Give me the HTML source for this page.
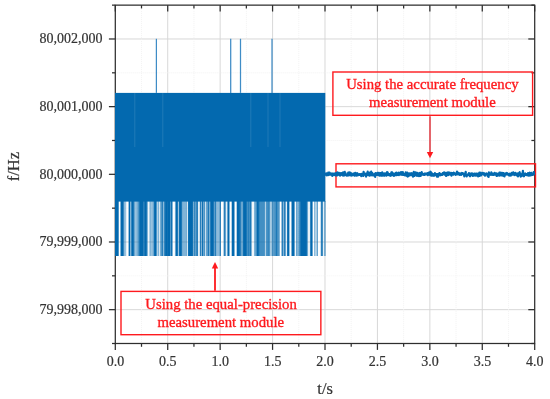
<!DOCTYPE html>
<html><head><meta charset="utf-8"><title>Frequency measurement</title>
<style>html,body{margin:0;padding:0;background:#fff}svg{display:block}</style></head>
<body>
<svg width="550" height="399" viewBox="0 0 550 399">
<rect width="550" height="399" fill="#fff"/>
<g stroke="#d6d6d6" stroke-width="0.95" fill="none"><line x1="167.72" y1="5.14" x2="167.72" y2="343.50"/><line x1="220.15" y1="5.14" x2="220.15" y2="343.50"/><line x1="272.57" y1="5.14" x2="272.57" y2="343.50"/><line x1="325.00" y1="5.14" x2="325.00" y2="343.50"/><line x1="377.43" y1="5.14" x2="377.43" y2="343.50"/><line x1="429.85" y1="5.14" x2="429.85" y2="343.50"/><line x1="482.27" y1="5.14" x2="482.27" y2="343.50"/><line x1="115.30" y1="309.66" x2="534.70" y2="309.66"/><line x1="115.30" y1="241.99" x2="534.70" y2="241.99"/><line x1="115.30" y1="174.32" x2="534.70" y2="174.32"/><line x1="115.30" y1="106.65" x2="534.70" y2="106.65"/><line x1="115.30" y1="38.98" x2="534.70" y2="38.98"/></g>
<g stroke="#f2f2f2" stroke-width="0.9" stroke-dasharray="1 1" fill="none"><line x1="141.51" y1="5.14" x2="141.51" y2="343.50"/><line x1="193.94" y1="5.14" x2="193.94" y2="343.50"/><line x1="246.36" y1="5.14" x2="246.36" y2="343.50"/><line x1="298.79" y1="5.14" x2="298.79" y2="343.50"/><line x1="351.21" y1="5.14" x2="351.21" y2="343.50"/><line x1="403.64" y1="5.14" x2="403.64" y2="343.50"/><line x1="456.06" y1="5.14" x2="456.06" y2="343.50"/><line x1="508.49" y1="5.14" x2="508.49" y2="343.50"/><line x1="115.30" y1="275.82" x2="534.70" y2="275.82"/><line x1="115.30" y1="208.16" x2="534.70" y2="208.16"/><line x1="115.30" y1="140.48" x2="534.70" y2="140.48"/><line x1="115.30" y1="72.81" x2="534.70" y2="72.81"/></g>
<g stroke="#2e2e2e" stroke-width="1.25" fill="none">
<rect x="115.30" y="5.14" width="419.40" height="338.35"/>
<line x1="115.30" y1="343.50" x2="115.30" y2="349.89"/><line x1="115.30" y1="5.14" x2="115.30" y2="11.54"/><line x1="141.51" y1="343.50" x2="141.51" y2="346.80"/><line x1="141.51" y1="5.14" x2="141.51" y2="8.44"/><line x1="167.72" y1="343.50" x2="167.72" y2="349.89"/><line x1="167.72" y1="5.14" x2="167.72" y2="11.54"/><line x1="193.94" y1="343.50" x2="193.94" y2="346.80"/><line x1="193.94" y1="5.14" x2="193.94" y2="8.44"/><line x1="220.15" y1="343.50" x2="220.15" y2="349.89"/><line x1="220.15" y1="5.14" x2="220.15" y2="11.54"/><line x1="246.36" y1="343.50" x2="246.36" y2="346.80"/><line x1="246.36" y1="5.14" x2="246.36" y2="8.44"/><line x1="272.57" y1="343.50" x2="272.57" y2="349.89"/><line x1="272.57" y1="5.14" x2="272.57" y2="11.54"/><line x1="298.79" y1="343.50" x2="298.79" y2="346.80"/><line x1="298.79" y1="5.14" x2="298.79" y2="8.44"/><line x1="325.00" y1="343.50" x2="325.00" y2="349.89"/><line x1="325.00" y1="5.14" x2="325.00" y2="11.54"/><line x1="351.21" y1="343.50" x2="351.21" y2="346.80"/><line x1="351.21" y1="5.14" x2="351.21" y2="8.44"/><line x1="377.43" y1="343.50" x2="377.43" y2="349.89"/><line x1="377.43" y1="5.14" x2="377.43" y2="11.54"/><line x1="403.64" y1="343.50" x2="403.64" y2="346.80"/><line x1="403.64" y1="5.14" x2="403.64" y2="8.44"/><line x1="429.85" y1="343.50" x2="429.85" y2="349.89"/><line x1="429.85" y1="5.14" x2="429.85" y2="11.54"/><line x1="456.06" y1="343.50" x2="456.06" y2="346.80"/><line x1="456.06" y1="5.14" x2="456.06" y2="8.44"/><line x1="482.27" y1="343.50" x2="482.27" y2="349.89"/><line x1="482.27" y1="5.14" x2="482.27" y2="11.54"/><line x1="508.49" y1="343.50" x2="508.49" y2="346.80"/><line x1="508.49" y1="5.14" x2="508.49" y2="8.44"/><line x1="534.70" y1="343.50" x2="534.70" y2="349.89"/><line x1="534.70" y1="5.14" x2="534.70" y2="11.54"/><line x1="115.30" y1="343.50" x2="112.00" y2="343.50"/><line x1="534.70" y1="343.50" x2="531.40" y2="343.50"/><line x1="115.30" y1="309.66" x2="108.90" y2="309.66"/><line x1="534.70" y1="309.66" x2="528.30" y2="309.66"/><line x1="115.30" y1="275.82" x2="112.00" y2="275.82"/><line x1="534.70" y1="275.82" x2="531.40" y2="275.82"/><line x1="115.30" y1="241.99" x2="108.90" y2="241.99"/><line x1="534.70" y1="241.99" x2="528.30" y2="241.99"/><line x1="115.30" y1="208.16" x2="112.00" y2="208.16"/><line x1="534.70" y1="208.16" x2="531.40" y2="208.16"/><line x1="115.30" y1="174.32" x2="108.90" y2="174.32"/><line x1="534.70" y1="174.32" x2="528.30" y2="174.32"/><line x1="115.30" y1="140.48" x2="112.00" y2="140.48"/><line x1="534.70" y1="140.48" x2="531.40" y2="140.48"/><line x1="115.30" y1="106.65" x2="108.90" y2="106.65"/><line x1="534.70" y1="106.65" x2="528.30" y2="106.65"/><line x1="115.30" y1="72.81" x2="112.00" y2="72.81"/><line x1="534.70" y1="72.81" x2="531.40" y2="72.81"/><line x1="115.30" y1="38.98" x2="108.90" y2="38.98"/><line x1="534.70" y1="38.98" x2="528.30" y2="38.98"/><line x1="115.30" y1="5.14" x2="112.00" y2="5.14"/><line x1="534.70" y1="5.14" x2="531.40" y2="5.14"/></g>
<rect x="115.00" y="92.90" width="210.30" height="108.70" fill="#0369af"/>
<g fill="#0369af" shape-rendering="crispEdges"><rect x="115" y="201.10" width="1" height="54.50" fill-opacity="1"/><rect x="116" y="201.10" width="1" height="54.50" fill-opacity="1"/><rect x="117" y="201.10" width="1" height="54.50" fill-opacity="1"/><rect x="118" y="201.10" width="1" height="54.50" fill-opacity="0.7"/><rect x="120" y="201.10" width="1" height="54.50" fill-opacity="0.5"/><rect x="121" y="201.10" width="1" height="54.50" fill-opacity="1"/><rect x="122" y="201.10" width="1" height="54.50" fill-opacity="1"/><rect x="123" y="201.10" width="1" height="54.50" fill-opacity="0.8"/><rect x="124" y="201.10" width="1" height="54.50" fill-opacity="0.45"/><rect x="125" y="201.10" width="1" height="54.50" fill-opacity="0.4"/><rect x="126" y="201.10" width="1" height="54.50" fill-opacity="0.1"/><rect x="128" y="201.10" width="1" height="54.50" fill-opacity="0.4"/><rect x="129" y="201.10" width="1" height="54.50" fill-opacity="1"/><rect x="130" y="201.10" width="1" height="54.50" fill-opacity="0.5"/><rect x="131" y="201.10" width="1" height="54.50" fill-opacity="0.8"/><rect x="132" y="201.10" width="1" height="54.50" fill-opacity="1"/><rect x="133" y="201.10" width="1" height="54.50" fill-opacity="0.9"/><rect x="134" y="201.10" width="1" height="54.50" fill-opacity="0.6"/><rect x="135" y="201.10" width="1" height="54.50" fill-opacity="0.4"/><rect x="136" y="201.10" width="1" height="54.50" fill-opacity="0.45"/><rect x="137" y="201.10" width="1" height="54.50" fill-opacity="0.55"/><rect x="138" y="201.10" width="1" height="54.50" fill-opacity="0.7"/><rect x="139" y="201.10" width="1" height="54.50" fill-opacity="0.9"/><rect x="140" y="201.10" width="1" height="54.50" fill-opacity="1"/><rect x="141" y="201.10" width="1" height="54.50" fill-opacity="1"/><rect x="142" y="201.10" width="1" height="54.50" fill-opacity="1"/><rect x="143" y="201.10" width="1" height="54.50" fill-opacity="0.85"/><rect x="144" y="201.10" width="1" height="54.50" fill-opacity="0.9"/><rect x="145" y="201.10" width="1" height="54.50" fill-opacity="1"/><rect x="146" y="201.10" width="1" height="54.50" fill-opacity="0.9"/><rect x="147" y="201.10" width="1" height="54.50" fill-opacity="0.5"/><rect x="148" y="201.10" width="1" height="54.50" fill-opacity="0.05"/><rect x="149" y="201.10" width="1" height="54.50" fill-opacity="0.3"/><rect x="150" y="201.10" width="1" height="54.50" fill-opacity="0.5"/><rect x="151" y="201.10" width="1" height="54.50" fill-opacity="0.4"/><rect x="152" y="201.10" width="1" height="54.50" fill-opacity="0.45"/><rect x="153" y="201.10" width="1" height="54.50" fill-opacity="0.6"/><rect x="154" y="201.10" width="1" height="54.50" fill-opacity="0.95"/><rect x="155" y="201.10" width="1" height="54.50" fill-opacity="1"/><rect x="156" y="201.10" width="1" height="54.50" fill-opacity="0.7"/><rect x="157" y="201.10" width="1" height="54.50" fill-opacity="0.3"/><rect x="158" y="201.10" width="1" height="54.50" fill-opacity="0.5"/><rect x="159" y="201.10" width="1" height="54.50" fill-opacity="0.15"/><rect x="160" y="201.10" width="1" height="54.50" fill-opacity="0.55"/><rect x="161" y="201.10" width="1" height="54.50" fill-opacity="0.7"/><rect x="162" y="201.10" width="1" height="54.50" fill-opacity="0.85"/><rect x="163" y="201.10" width="1" height="54.50" fill-opacity="0.45"/><rect x="164" y="201.10" width="1" height="54.50" fill-opacity="0.8"/><rect x="165" y="201.10" width="1" height="54.50" fill-opacity="0.95"/><rect x="166" y="201.10" width="1" height="54.50" fill-opacity="1"/><rect x="167" y="201.10" width="1" height="54.50" fill-opacity="0.95"/><rect x="168" y="201.10" width="1" height="54.50" fill-opacity="1"/><rect x="169" y="201.10" width="1" height="54.50" fill-opacity="1"/><rect x="170" y="201.10" width="1" height="54.50" fill-opacity="0.7"/><rect x="171" y="201.10" width="1" height="54.50" fill-opacity="0.95"/><rect x="172" y="201.10" width="1" height="54.50" fill-opacity="0.5"/><rect x="174" y="201.10" width="1" height="54.50" fill-opacity="0.05"/><rect x="175" y="201.10" width="1" height="54.50" fill-opacity="0.6"/><rect x="176" y="201.10" width="1" height="54.50" fill-opacity="1"/><rect x="177" y="201.10" width="1" height="54.50" fill-opacity="0.9"/><rect x="178" y="201.10" width="1" height="54.50" fill-opacity="0.4"/><rect x="179" y="201.10" width="1" height="54.50" fill-opacity="0.95"/><rect x="180" y="201.10" width="1" height="54.50" fill-opacity="1"/><rect x="181" y="201.10" width="1" height="54.50" fill-opacity="0.9"/><rect x="182" y="201.10" width="1" height="54.50" fill-opacity="0.55"/><rect x="183" y="201.10" width="1" height="54.50" fill-opacity="0.5"/><rect x="184" y="201.10" width="1" height="54.50" fill-opacity="0.5"/><rect x="185" y="201.10" width="1" height="54.50" fill-opacity="0.5"/><rect x="186" y="201.10" width="1" height="54.50" fill-opacity="0.55"/><rect x="187" y="201.10" width="1" height="54.50" fill-opacity="0.15"/><rect x="188" y="201.10" width="1" height="54.50" fill-opacity="0.95"/><rect x="189" y="201.10" width="1" height="54.50" fill-opacity="1"/><rect x="190" y="201.10" width="1" height="54.50" fill-opacity="1"/><rect x="191" y="201.10" width="1" height="54.50" fill-opacity="1"/><rect x="192" y="201.10" width="1" height="54.50" fill-opacity="0.95"/><rect x="193" y="201.10" width="1" height="54.50" fill-opacity="0.55"/><rect x="194" y="201.10" width="1" height="54.50" fill-opacity="0.8"/><rect x="195" y="201.10" width="1" height="54.50" fill-opacity="0.65"/><rect x="196" y="201.10" width="1" height="54.50" fill-opacity="0.8"/><rect x="197" y="201.10" width="1" height="54.50" fill-opacity="0.85"/><rect x="198" y="201.10" width="1" height="54.50" fill-opacity="0.1"/><rect x="199" y="201.10" width="1" height="54.50" fill-opacity="0.2"/><rect x="200" y="201.10" width="1" height="54.50" fill-opacity="0.85"/><rect x="201" y="201.10" width="1" height="54.50" fill-opacity="0.5"/><rect x="202" y="201.10" width="1" height="54.50" fill-opacity="0.95"/><rect x="203" y="201.10" width="1" height="54.50" fill-opacity="0.6"/><rect x="204" y="201.10" width="1" height="54.50" fill-opacity="0.7"/><rect x="205" y="201.10" width="1" height="54.50" fill-opacity="0.2"/><rect x="206" y="201.10" width="1" height="54.50" fill-opacity="0.6"/><rect x="207" y="201.10" width="1" height="54.50" fill-opacity="0.65"/><rect x="208" y="201.10" width="1" height="54.50" fill-opacity="0.9"/><rect x="209" y="201.10" width="1" height="54.50" fill-opacity="0.55"/><rect x="210" y="201.10" width="1" height="54.50" fill-opacity="0.85"/><rect x="211" y="201.10" width="1" height="54.50" fill-opacity="1"/><rect x="212" y="201.10" width="1" height="54.50" fill-opacity="1"/><rect x="213" y="201.10" width="1" height="54.50" fill-opacity="0.9"/><rect x="214" y="201.10" width="1" height="54.50" fill-opacity="0.65"/><rect x="215" y="201.10" width="1" height="54.50" fill-opacity="0.85"/><rect x="216" y="201.10" width="1" height="54.50" fill-opacity="0.5"/><rect x="217" y="201.10" width="1" height="54.50" fill-opacity="0.45"/><rect x="218" y="201.10" width="1" height="54.50" fill-opacity="0.45"/><rect x="219" y="201.10" width="1" height="54.50" fill-opacity="0.55"/><rect x="220" y="201.10" width="1" height="54.50" fill-opacity="0.8"/><rect x="223" y="201.10" width="1" height="54.50" fill-opacity="0.3"/><rect x="224" y="201.10" width="1" height="54.50" fill-opacity="0.85"/><rect x="225" y="201.10" width="1" height="54.50" fill-opacity="0.6"/><rect x="226" y="201.10" width="1" height="54.50" fill-opacity="0.1"/><rect x="227" y="201.10" width="1" height="54.50" fill-opacity="0.6"/><rect x="228" y="201.10" width="1" height="54.50" fill-opacity="1"/><rect x="229" y="201.10" width="1" height="54.50" fill-opacity="0.5"/><rect x="231" y="201.10" width="1" height="54.50" fill-opacity="0.3"/><rect x="232" y="201.10" width="1" height="54.50" fill-opacity="1"/><rect x="233" y="201.10" width="1" height="54.50" fill-opacity="1"/><rect x="234" y="201.10" width="1" height="54.50" fill-opacity="0.5"/><rect x="236" y="201.10" width="1" height="54.50" fill-opacity="0.3"/><rect x="237" y="201.10" width="1" height="54.50" fill-opacity="1"/><rect x="238" y="201.10" width="1" height="54.50" fill-opacity="1"/><rect x="239" y="201.10" width="1" height="54.50" fill-opacity="0.95"/><rect x="240" y="201.10" width="1" height="54.50" fill-opacity="0.85"/><rect x="241" y="201.10" width="1" height="54.50" fill-opacity="0.6"/><rect x="242" y="201.10" width="1" height="54.50" fill-opacity="0.6"/><rect x="243" y="201.10" width="1" height="54.50" fill-opacity="0.95"/><rect x="244" y="201.10" width="1" height="54.50" fill-opacity="1"/><rect x="245" y="201.10" width="1" height="54.50" fill-opacity="1"/><rect x="246" y="201.10" width="1" height="54.50" fill-opacity="0.9"/><rect x="247" y="201.10" width="1" height="54.50" fill-opacity="0.75"/><rect x="248" y="201.10" width="1" height="54.50" fill-opacity="0.85"/><rect x="249" y="201.10" width="1" height="54.50" fill-opacity="0.75"/><rect x="250" y="201.10" width="1" height="54.50" fill-opacity="0.9"/><rect x="251" y="201.10" width="1" height="54.50" fill-opacity="0.5"/><rect x="252" y="201.10" width="1" height="54.50" fill-opacity="0.05"/><rect x="253" y="201.10" width="1" height="54.50" fill-opacity="0.05"/><rect x="254" y="201.10" width="1" height="54.50" fill-opacity="0.5"/><rect x="255" y="201.10" width="1" height="54.50" fill-opacity="0.6"/><rect x="256" y="201.10" width="1" height="54.50" fill-opacity="0.75"/><rect x="257" y="201.10" width="1" height="54.50" fill-opacity="1"/><rect x="258" y="201.10" width="1" height="54.50" fill-opacity="0.95"/><rect x="259" y="201.10" width="1" height="54.50" fill-opacity="0.8"/><rect x="260" y="201.10" width="1" height="54.50" fill-opacity="0.75"/><rect x="261" y="201.10" width="1" height="54.50" fill-opacity="0.75"/><rect x="262" y="201.10" width="1" height="54.50" fill-opacity="0.75"/><rect x="263" y="201.10" width="1" height="54.50" fill-opacity="0.75"/><rect x="264" y="201.10" width="1" height="54.50" fill-opacity="0.7"/><rect x="265" y="201.10" width="1" height="54.50" fill-opacity="0.3"/><rect x="266" y="201.10" width="1" height="54.50" fill-opacity="0.7"/><rect x="267" y="201.10" width="1" height="54.50" fill-opacity="0.75"/><rect x="268" y="201.10" width="1" height="54.50" fill-opacity="0.8"/><rect x="269" y="201.10" width="1" height="54.50" fill-opacity="0.7"/><rect x="270" y="201.10" width="1" height="54.50" fill-opacity="0.35"/><rect x="271" y="201.10" width="1" height="54.50" fill-opacity="0.4"/><rect x="272" y="201.10" width="1" height="54.50" fill-opacity="0.7"/><rect x="273" y="201.10" width="1" height="54.50" fill-opacity="0.65"/><rect x="274" y="201.10" width="1" height="54.50" fill-opacity="0.7"/><rect x="275" y="201.10" width="1" height="54.50" fill-opacity="0.75"/><rect x="276" y="201.10" width="1" height="54.50" fill-opacity="0.9"/><rect x="277" y="201.10" width="1" height="54.50" fill-opacity="0.75"/><rect x="278" y="201.10" width="1" height="54.50" fill-opacity="0.7"/><rect x="279" y="201.10" width="1" height="54.50" fill-opacity="0.5"/><rect x="281" y="201.10" width="1" height="54.50" fill-opacity="0.4"/><rect x="282" y="201.10" width="1" height="54.50" fill-opacity="0.85"/><rect x="283" y="201.10" width="1" height="54.50" fill-opacity="0.5"/><rect x="284" y="201.10" width="1" height="54.50" fill-opacity="0.85"/><rect x="285" y="201.10" width="1" height="54.50" fill-opacity="0.6"/><rect x="286" y="201.10" width="1" height="54.50" fill-opacity="0.1"/><rect x="287" y="201.10" width="1" height="54.50" fill-opacity="0.9"/><rect x="288" y="201.10" width="1" height="54.50" fill-opacity="1"/><rect x="289" y="201.10" width="1" height="54.50" fill-opacity="0.4"/><rect x="291" y="201.10" width="1" height="54.50" fill-opacity="0.5"/><rect x="292" y="201.10" width="1" height="54.50" fill-opacity="1"/><rect x="293" y="201.10" width="1" height="54.50" fill-opacity="1"/><rect x="294" y="201.10" width="1" height="54.50" fill-opacity="0.6"/><rect x="295" y="201.10" width="1" height="54.50" fill-opacity="0.05"/><rect x="296" y="201.10" width="1" height="54.50" fill-opacity="0.6"/><rect x="297" y="201.10" width="1" height="54.50" fill-opacity="0.5"/><rect x="298" y="201.10" width="1" height="54.50" fill-opacity="0.55"/><rect x="299" y="201.10" width="1" height="54.50" fill-opacity="0.75"/><rect x="300" y="201.10" width="1" height="54.50" fill-opacity="0.9"/><rect x="301" y="201.10" width="1" height="54.50" fill-opacity="1"/><rect x="302" y="201.10" width="1" height="54.50" fill-opacity="1"/><rect x="303" y="201.10" width="1" height="54.50" fill-opacity="1"/><rect x="304" y="201.10" width="1" height="54.50" fill-opacity="1"/><rect x="305" y="201.10" width="1" height="54.50" fill-opacity="1"/><rect x="306" y="201.10" width="1" height="54.50" fill-opacity="0.95"/><rect x="307" y="201.10" width="1" height="54.50" fill-opacity="0.6"/><rect x="308" y="201.10" width="1" height="54.50" fill-opacity="0.1"/><rect x="309" y="201.10" width="1" height="54.50" fill-opacity="0.1"/><rect x="310" y="201.10" width="1" height="54.50" fill-opacity="0.8"/><rect x="311" y="201.10" width="1" height="54.50" fill-opacity="1"/><rect x="312" y="201.10" width="1" height="54.50" fill-opacity="0.6"/><rect x="314" y="201.10" width="1" height="54.50" fill-opacity="0.45"/><rect x="315" y="201.10" width="1" height="54.50" fill-opacity="0.3"/><rect x="316" y="201.10" width="1" height="54.50" fill-opacity="0.35"/><rect x="317" y="201.10" width="1" height="54.50" fill-opacity="0.6"/><rect x="320" y="201.10" width="1" height="54.50" fill-opacity="0.2"/><rect x="321" y="201.10" width="1" height="54.50" fill-opacity="0.85"/><rect x="322" y="201.10" width="1" height="54.50" fill-opacity="0.75"/><rect x="323" y="201.10" width="1" height="54.50" fill-opacity="0.1"/><rect x="324" y="201.10" width="1" height="54.50" fill-opacity="0.5"/><rect x="325" y="201.10" width="1" height="54.50" fill-opacity="0.4"/></g>
<line x1="134.8" y1="92.90" x2="134.8" y2="147" stroke="#fff" stroke-opacity="0.12" stroke-width="1"/>
<line x1="162.8" y1="92.90" x2="162.8" y2="147" stroke="#fff" stroke-opacity="0.12" stroke-width="1"/>
<line x1="250.8" y1="92.90" x2="250.8" y2="147" stroke="#fff" stroke-opacity="0.12" stroke-width="1"/>
<line x1="268.0" y1="92.90" x2="268.0" y2="147" stroke="#fff" stroke-opacity="0.12" stroke-width="1"/>
<line x1="280.0" y1="92.90" x2="280.0" y2="147" stroke="#fff" stroke-opacity="0.12" stroke-width="1"/>
<line x1="156.4" y1="38.78" x2="156.4" y2="92.90" stroke="#3f8cc6" stroke-width="1.25"/>
<line x1="230.7" y1="38.78" x2="230.7" y2="92.90" stroke="#3f8cc6" stroke-width="1.25"/>
<line x1="240.5" y1="38.78" x2="240.5" y2="92.90" stroke="#3f8cc6" stroke-width="1.25"/>
<line x1="272.0" y1="38.78" x2="272.0" y2="92.90" stroke="#3f8cc6" stroke-width="1.25"/>
<g stroke="#fe1a1e" stroke-width="1.4" fill="none">
<rect x="332.9" y="72.0" width="199.7" height="43.3"/>
<rect x="336.0" y="163.8" width="199.5" height="23.1"/>
<rect x="121.0" y="291.4" width="199.85" height="43.3"/>
<line x1="430.0" y1="116.3" x2="430.0" y2="153" stroke-width="2" stroke="#e4656b"/>
<line x1="215.0" y1="290.7" x2="215.0" y2="267.5" stroke-width="1.8"/>
</g>
<path d="M426.8 152.1 L433.2 152.1 L430.0 158.3 Z" fill="#fe1a1e"/>
<path d="M211.8 268.5 L218.2 268.5 L215.0 262.0 Z" fill="#fe1a1e"/>
<polyline points="325.0,173.98 325.3,174.71 325.5,174.01 325.8,173.92 326.1,173.34 326.3,174.02 326.6,175.28 326.9,174.62 327.2,175.21 327.4,174.46 327.7,174.60 328.0,174.40 328.2,172.64 328.5,175.03 328.8,174.70 329.0,174.69 329.3,172.61 329.6,172.56 329.9,173.37 330.1,173.78 330.4,174.51 330.7,174.18 330.9,174.71 331.2,173.61 331.5,174.51 331.7,174.59 332.0,173.59 332.3,175.85 332.6,174.75 332.8,175.36 333.1,173.63 333.4,173.52 333.6,173.89 333.9,174.12 334.2,174.82 334.4,174.46 334.7,173.80 335.0,173.31 335.3,173.73 335.5,175.38 335.8,173.45 336.1,174.45 336.3,174.63 336.6,172.80 336.9,174.27 337.1,175.46 337.4,172.31 337.7,173.91 338.0,174.12 338.2,173.44 338.5,174.69 338.8,174.16 339.0,172.83 339.3,175.01 339.6,174.86 339.8,175.12 340.1,175.59 340.4,174.56 340.7,174.33 340.9,172.99 341.2,174.80 341.5,173.64 341.7,173.79 342.0,173.02 342.3,173.30 342.5,173.72 342.8,175.44 343.1,172.29 343.4,172.84 343.6,174.45 343.9,175.59 344.2,174.77 344.4,172.42 344.7,171.83 345.0,174.56 345.2,173.52 345.5,173.16 345.8,175.15 346.1,175.27 346.3,174.37 346.6,174.45 346.9,174.63 347.1,175.73 347.4,174.81 347.7,174.71 347.9,174.74 348.2,172.73 348.5,175.44 348.8,175.13 349.0,174.72 349.3,172.34 349.6,173.62 349.8,175.02 350.1,172.50 350.4,174.05 350.6,175.19 350.9,172.97 351.2,175.75 351.5,174.74 351.7,174.08 352.0,174.53 352.3,174.84 352.5,174.33 352.8,175.31 353.1,173.59 353.3,173.83 353.6,175.21 353.9,174.25 354.2,173.38 354.4,175.12 354.7,175.61 355.0,173.80 355.2,172.91 355.5,174.09 355.8,174.08 356.0,173.94 356.3,175.55 356.6,173.24 356.9,175.42 357.1,173.02 357.4,173.47 357.7,174.82 357.9,175.29 358.2,175.04 358.5,174.55 358.7,174.36 359.0,174.36 359.3,174.77 359.6,174.05 359.8,174.48 360.1,174.76 360.4,174.22 360.6,174.95 360.9,174.76 361.2,176.13 361.4,174.53 361.7,173.81 362.0,173.87 362.3,174.21 362.5,175.10 362.8,173.90 363.1,174.59 363.3,175.97 363.6,171.78 363.9,173.15 364.1,174.45 364.4,174.60 364.7,174.45 365.0,173.81 365.2,174.84 365.5,174.49 365.8,173.72 366.0,176.53 366.3,174.56 366.6,173.69 366.8,174.13 367.1,174.01 367.4,174.16 367.7,171.63 367.9,173.76 368.2,175.18 368.5,173.11 368.7,174.16 369.0,175.13 369.3,175.03 369.5,175.64 369.8,172.60 370.1,173.88 370.4,173.90 370.6,174.81 370.9,175.26 371.2,171.67 371.4,175.25 371.7,172.84 372.0,174.87 372.2,172.80 372.5,174.39 372.8,175.35 373.1,174.08 373.3,174.40 373.6,174.98 373.9,174.35 374.1,174.14 374.4,175.68 374.7,175.22 374.9,173.94 375.2,176.83 375.5,173.13 375.8,175.09 376.0,173.97 376.3,174.35 376.6,174.89 376.8,174.43 377.1,174.83 377.4,172.77 377.6,172.79 377.9,174.80 378.2,173.30 378.5,173.24 378.7,172.82 379.0,175.42 379.3,174.93 379.5,175.62 379.8,173.33 380.1,174.22 380.3,173.14 380.6,174.95 380.9,175.73 381.2,173.37 381.4,175.70 381.7,175.16 382.0,174.05 382.2,172.35 382.5,175.56 382.8,174.13 383.0,173.65 383.3,174.60 383.6,174.61 383.9,175.64 384.1,173.25 384.4,175.30 384.7,175.63 384.9,175.60 385.2,174.05 385.5,173.51 385.7,175.19 386.0,174.33 386.3,174.34 386.6,175.57 386.8,173.97 387.1,172.04 387.4,173.85 387.6,172.46 387.9,175.00 388.2,174.52 388.4,173.64 388.7,174.21 389.0,175.01 389.3,174.29 389.5,175.48 389.8,174.16 390.1,175.21 390.3,175.64 390.6,175.75 390.9,173.58 391.1,175.06 391.4,172.44 391.7,173.19 392.0,172.36 392.2,175.24 392.5,173.05 392.8,174.21 393.0,174.04 393.3,174.19 393.6,173.66 393.8,174.44 394.1,175.92 394.4,174.26 394.7,174.72 394.9,175.17 395.2,174.03 395.5,173.02 395.7,173.69 396.0,175.24 396.3,172.66 396.5,173.65 396.8,175.18 397.1,174.97 397.4,174.23 397.6,174.98 397.9,174.38 398.2,173.10 398.4,172.73 398.7,173.61 399.0,175.10 399.2,173.68 399.5,173.36 399.8,173.49 400.1,172.76 400.3,174.11 400.6,173.10 400.9,174.57 401.1,171.98 401.4,174.53 401.7,173.61 401.9,172.37 402.2,174.91 402.5,173.96 402.8,172.10 403.0,173.39 403.3,174.50 403.6,173.78 403.8,174.96 404.1,174.93 404.4,174.85 404.6,174.53 404.9,175.49 405.2,174.85 405.5,174.65 405.7,172.24 406.0,175.07 406.3,175.46 406.5,173.94 406.8,173.77 407.1,176.06 407.3,172.55 407.6,174.67 407.9,176.52 408.2,173.34 408.4,174.88 408.7,176.01 409.0,174.11 409.2,174.75 409.5,175.08 409.8,173.36 410.0,174.14 410.3,174.50 410.6,175.00 410.9,174.19 411.1,174.03 411.4,173.25 411.7,173.88 411.9,175.07 412.2,174.32 412.5,173.41 412.7,173.42 413.0,176.75 413.3,175.30 413.6,174.83 413.8,171.76 414.1,174.81 414.4,174.68 414.6,175.82 414.9,174.63 415.2,174.16 415.4,174.72 415.7,172.37 416.0,175.20 416.3,174.53 416.5,173.55 416.8,175.48 417.1,175.94 417.3,172.89 417.6,173.59 417.9,174.50 418.1,174.39 418.4,173.84 418.7,173.29 419.0,176.23 419.2,175.21 419.5,173.09 419.8,172.94 420.0,175.84 420.3,175.16 420.6,175.95 420.8,174.99 421.1,173.39 421.4,174.47 421.7,172.17 421.9,173.51 422.2,174.16 422.5,174.72 422.7,173.53 423.0,174.10 423.3,174.66 423.5,174.58 423.8,174.83 424.1,174.42 424.4,173.91 424.6,174.97 424.9,174.27 425.2,173.44 425.4,173.63 425.7,174.22 426.0,174.12 426.2,174.37 426.5,174.22 426.8,174.39 427.1,174.09 427.3,173.02 427.6,174.62 427.9,175.22 428.1,174.63 428.4,174.04 428.7,174.64 428.9,173.30 429.2,172.42 429.5,174.28 429.8,173.34 430.0,174.92 430.3,173.19 430.6,171.72 430.8,173.23 431.1,175.72 431.4,173.86 431.6,172.92 431.9,173.49 432.2,174.71 432.5,174.69 432.7,174.39 433.0,175.63 433.3,174.89 433.5,174.20 433.8,174.79 434.1,175.79 434.3,175.14 434.6,175.19 434.9,173.19 435.2,174.08 435.4,174.91 435.7,173.94 436.0,175.24 436.2,174.79 436.5,175.08 436.8,174.02 437.0,176.64 437.3,175.40 437.6,174.02 437.9,174.31 438.1,176.69 438.4,173.89 438.7,175.05 438.9,175.15 439.2,174.23 439.5,173.11 439.7,174.40 440.0,174.56 440.3,175.29 440.6,174.96 440.8,174.24 441.1,175.03 441.4,174.73 441.6,174.42 441.9,174.27 442.2,173.99 442.4,174.87 442.7,173.22 443.0,173.62 443.3,174.22 443.5,172.83 443.8,173.81 444.1,172.31 444.3,173.57 444.6,174.76 444.9,174.76 445.1,174.17 445.4,174.00 445.7,172.87 446.0,175.96 446.2,174.71 446.5,175.26 446.8,173.38 447.0,174.04 447.3,172.49 447.6,174.96 447.8,175.11 448.1,172.42 448.4,174.17 448.7,174.82 448.9,172.55 449.2,172.49 449.5,173.21 449.7,173.62 450.0,172.89 450.3,174.25 450.5,174.46 450.8,174.82 451.1,174.89 451.4,175.65 451.6,175.33 451.9,172.97 452.2,173.74 452.4,173.21 452.7,173.20 453.0,174.14 453.2,174.23 453.5,174.69 453.8,172.71 454.1,173.04 454.3,174.20 454.6,174.03 454.9,173.92 455.1,174.16 455.4,173.50 455.7,174.89 455.9,174.56 456.2,174.14 456.5,173.58 456.8,174.05 457.0,171.63 457.3,173.29 457.6,174.26 457.8,172.79 458.1,174.41 458.4,174.36 458.6,172.91 458.9,173.98 459.2,173.92 459.5,174.66 459.7,174.80 460.0,174.19 460.3,173.41 460.5,174.08 460.8,174.16 461.1,174.92 461.3,174.50 461.6,173.53 461.9,172.93 462.2,173.87 462.4,173.52 462.7,173.16 463.0,174.11 463.2,173.75 463.5,174.32 463.8,174.72 464.0,173.83 464.3,176.43 464.6,173.91 464.9,175.27 465.1,174.34 465.4,175.28 465.7,171.96 465.9,173.51 466.2,174.45 466.5,174.79 466.7,176.44 467.0,174.53 467.3,175.44 467.6,174.95 467.8,175.12 468.1,174.70 468.4,174.07 468.6,174.70 468.9,173.20 469.2,175.34 469.4,173.25 469.7,174.46 470.0,176.23 470.3,174.01 470.5,174.24 470.8,175.32 471.1,174.24 471.3,173.45 471.6,174.47 471.9,174.77 472.1,174.89 472.4,173.49 472.7,175.88 473.0,175.80 473.2,174.24 473.5,174.48 473.8,173.81 474.0,175.56 474.3,173.55 474.6,174.86 474.8,173.76 475.1,173.56 475.4,174.90 475.7,175.49 475.9,174.21 476.2,173.58 476.5,174.99 476.7,174.17 477.0,174.52 477.3,175.67 477.5,175.30 477.8,173.73 478.1,176.39 478.4,174.22 478.6,174.97 478.9,173.61 479.2,174.18 479.4,172.56 479.7,175.92 480.0,175.52 480.2,173.07 480.5,172.79 480.8,172.68 481.1,175.34 481.3,173.78 481.6,174.16 481.9,173.92 482.1,174.10 482.4,173.19 482.7,174.24 482.9,172.85 483.2,174.15 483.5,174.51 483.8,174.66 484.0,174.00 484.3,173.36 484.6,174.37 484.8,173.76 485.1,175.71 485.4,174.95 485.6,174.11 485.9,173.77 486.2,173.55 486.5,173.33 486.7,173.88 487.0,174.50 487.3,174.71 487.5,174.76 487.8,176.21 488.1,173.55 488.3,174.23 488.6,176.87 488.9,172.45 489.2,173.72 489.4,174.38 489.7,174.37 490.0,174.61 490.2,173.99 490.5,174.57 490.8,174.27 491.0,174.95 491.3,172.42 491.6,173.38 491.9,174.22 492.1,173.24 492.4,173.23 492.7,174.82 492.9,173.60 493.2,174.82 493.5,174.93 493.7,174.51 494.0,174.70 494.3,174.12 494.6,172.88 494.8,174.19 495.1,174.65 495.4,173.72 495.6,174.13 495.9,174.93 496.2,173.39 496.4,174.83 496.7,175.99 497.0,173.69 497.3,174.36 497.5,174.08 497.8,175.68 498.1,174.52 498.3,175.07 498.6,173.56 498.9,174.20 499.1,174.21 499.4,172.53 499.7,175.59 500.0,175.07 500.2,172.56 500.5,174.93 500.8,174.10 501.0,174.65 501.3,174.57 501.6,172.80 501.8,174.02 502.1,175.64 502.4,173.67 502.7,173.25 502.9,172.93 503.2,173.06 503.5,174.54 503.7,175.83 504.0,174.63 504.3,174.45 504.5,176.34 504.8,173.73 505.1,173.58 505.4,174.72 505.6,174.74 505.9,173.26 506.2,173.11 506.4,174.50 506.7,174.46 507.0,172.98 507.2,174.03 507.5,173.70 507.8,174.66 508.1,174.11 508.3,174.14 508.6,173.88 508.9,175.22 509.1,175.54 509.4,173.87 509.7,175.02 509.9,173.50 510.2,174.29 510.5,174.93 510.8,175.66 511.0,173.86 511.3,174.15 511.6,174.41 511.8,172.80 512.1,174.24 512.4,173.58 512.6,174.57 512.9,173.15 513.2,172.34 513.5,174.26 513.7,174.47 514.0,173.70 514.3,175.06 514.5,173.96 514.8,173.64 515.1,174.67 515.3,172.73 515.6,173.58 515.9,174.20 516.2,175.03 516.4,174.07 516.7,174.51 517.0,173.60 517.2,174.51 517.5,175.80 517.8,173.57 518.0,176.47 518.3,173.61 518.6,174.24 518.9,174.38 519.1,175.19 519.4,173.04 519.7,172.22 519.9,174.80 520.2,174.98 520.5,174.81 520.7,176.72 521.0,174.41 521.3,174.46 521.6,175.10 521.8,174.57 522.1,175.80 522.4,173.04 522.6,173.86 522.9,170.95 523.2,174.99 523.4,173.87 523.7,175.10 524.0,176.27 524.3,174.21 524.5,173.98 524.8,173.75 525.1,173.42 525.3,173.62 525.6,174.83 525.9,174.25 526.1,174.28 526.4,174.06 526.7,175.09 527.0,174.69 527.2,174.09 527.5,174.85 527.8,174.08 528.0,173.12 528.3,175.60 528.6,174.66 528.8,173.31 529.1,175.24 529.4,174.55 529.7,172.73 529.9,175.75 530.2,174.54 530.5,175.07 530.7,174.41 531.0,174.08 531.3,172.75 531.5,175.14 531.8,174.25 532.1,173.95 532.4,174.55 532.6,174.29 532.9,174.86 533.2,173.87 533.4,174.19 533.7,172.19 534.0,173.82 534.2,174.86" fill="none" stroke="#0369af" stroke-width="2.2" stroke-linejoin="round"/>
<g font-family="'Liberation Serif', 'Times New Roman', serif" font-size="14.75" fill="#fe1a1e" stroke="#fe1a1e" stroke-width="0.35" text-anchor="middle">
<text x="432.4" y="89.4">Using the accurate frequency</text>
<text x="432.4" y="107.4">measurement module</text>
<text x="221.1" y="309">Using the equal-precision</text>
<text x="220.8" y="326.6">measurement module</text>
</g>
<g font-family="'Liberation Serif', 'Times New Roman', serif" font-size="14" fill="#333" stroke="#333" stroke-width="0.2">
<text x="102.6" y="313.86" text-anchor="end">79,998,000</text>
<text x="102.6" y="246.19" text-anchor="end">79,999,000</text>
<text x="102.6" y="178.52" text-anchor="end">80,000,000</text>
<text x="102.6" y="110.85" text-anchor="end">80,001,000</text>
<text x="102.6" y="43.18" text-anchor="end">80,002,000</text>
<text x="115.40" y="366.2" text-anchor="middle">0.0</text>
<text x="167.82" y="366.2" text-anchor="middle">0.5</text>
<text x="220.25" y="366.2" text-anchor="middle">1.0</text>
<text x="272.68" y="366.2" text-anchor="middle">1.5</text>
<text x="325.10" y="366.2" text-anchor="middle">2.0</text>
<text x="377.53" y="366.2" text-anchor="middle">2.5</text>
<text x="429.95" y="366.2" text-anchor="middle">3.0</text>
<text x="482.38" y="366.2" text-anchor="middle">3.5</text>
<text x="534.80" y="366.2" text-anchor="middle">4.0</text>
</g>
<g font-family="'Liberation Serif', 'Times New Roman', serif" font-size="16.5" fill="#333" stroke="#333" stroke-width="0.2">
<text x="317.3" y="393.8">t/s</text>
<text transform="translate(19.1 181.3) rotate(-90)">f/Hz</text>
</g>
</svg>
</body></html>
